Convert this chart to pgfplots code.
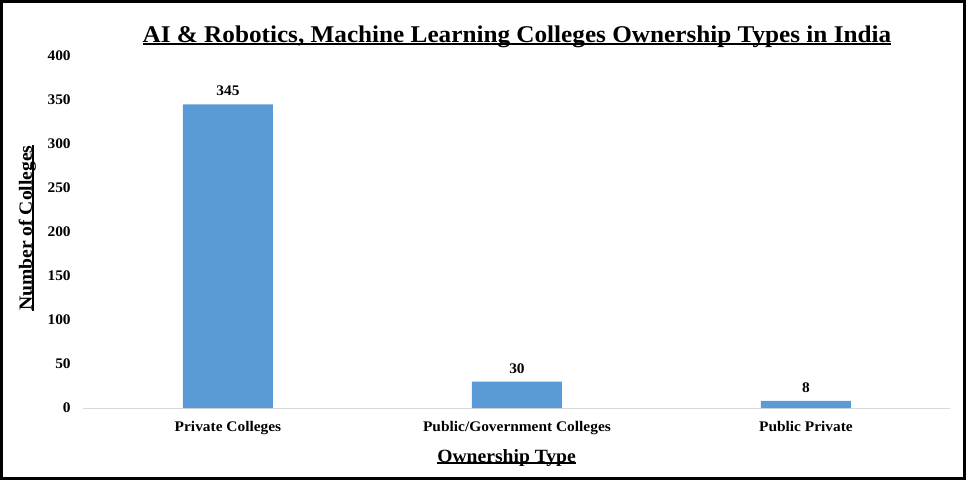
\documentclass[border=0pt]{standalone}
\usepackage{fontspec}
\setmainfont[FakeStretch=1.05]{Liberation Serif}
\usepackage{pgfplots}
\pgfplotsset{compat=1.18}
\definecolor{barblue}{HTML}{5B9BD5}
\definecolor{axisgray}{HTML}{D9D9D9}
\newsavebox\ulbox
\newcommand\ul[1]{\sbox\ulbox{#1}\makebox[0pt][l]{\rule[-1.4pt]{\wd\ulbox}{1.1pt}}\usebox\ulbox}
\begin{document}
% 1px = 0.75pt, picture is 966 x 480 px
\begin{tikzpicture}
\useasboundingbox (0,0) rectangle (724.5pt,360pt);
\draw[line width=2.25pt] (1.1pt,1.1pt) rectangle (723.4pt,358.9pt);
\begin{axis}[
  at={(62.6pt,54pt)}, anchor=south west,
  scale only axis,
  width=650.25pt, height=264pt,
  ybar, bar width=67.5pt,
  xmin=-0.5, xmax=2.5,
  ymin=0, ymax=400,
  enlargelimits=false,
  xtick=data,
  xticklabels={Private Colleges, Public/Government Colleges, Public Private},
  ytick={0,50,...,400},
  axis x line=bottom, axis y line=left,
  x axis line style={draw=axisgray, line width=0.75pt, -},
  y axis line style={draw=none},
  major tick length=0pt,
  tick style={draw=none},
  /pgf/number format/assume math mode=true,
  ticklabel style={font=\fontsize{11pt}{13pt}\selectfont\bfseries, inner sep=0pt},
  yticklabel style={anchor=east, xshift=-9.4pt},
  xticklabel style={anchor=north, yshift=-10pt},
  nodes near coords,
  every node near coord/.append style={font=\fontsize{11pt}{13pt}\selectfont\bfseries, anchor=south, inner sep=0pt, yshift=6pt, black},
  every axis title shift=0pt,
  title={\ul{AI \& Robotics, Machine Learning Colleges Ownership Types in India}},
  title style={at={(axis description cs:0.5,1.037)}, anchor=base, font=\fontsize{18pt}{21pt}\selectfont\bfseries},
  xlabel={\ul{Ownership Type}},
  xlabel style={at={(axis description cs:0.488,-0.1534)}, anchor=base, font=\fontsize{14pt}{16pt}\selectfont\bfseries},
  ylabel={\ul{Number of Colleges}},
  ylabel style={at={(axis description cs:-0.0594,0.511)}, anchor=base, rotate=0, font=\fontsize{14pt}{16pt}\selectfont\bfseries},
]
\addplot[fill=barblue, draw=none] coordinates {(0,345) (1,30) (2,8)};
\end{axis}
\end{tikzpicture}
\end{document}
